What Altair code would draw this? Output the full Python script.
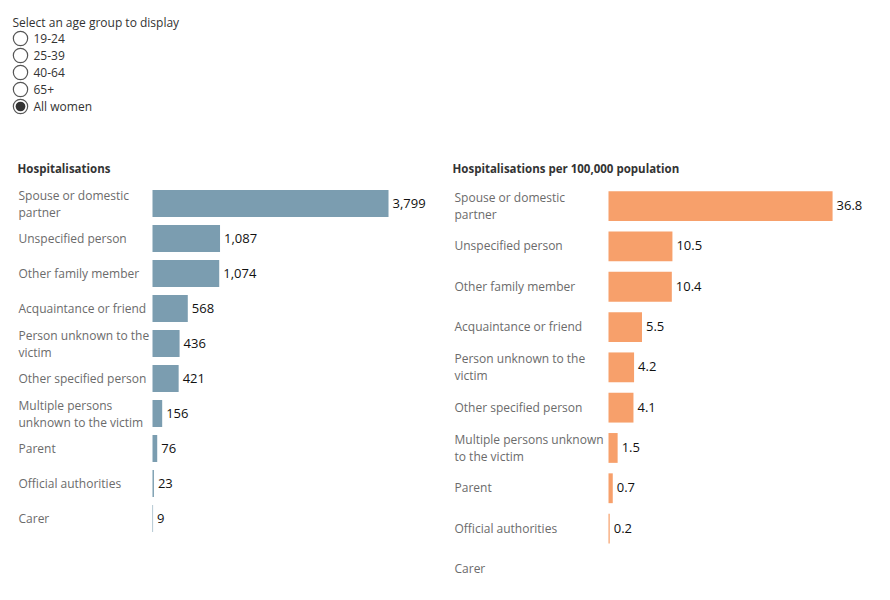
import altair as alt
import pandas as pd

prompt = "Select an age group to display"
options = ["19-24", "25-39", "40-64", "65+", "All women"]
selected = "All women"

categories = [
    "Spouse or domestic partner", "Unspecified person", "Other family member",
    "Acquaintance or friend", "Person unknown to the victim", "Other specified person",
    "Multiple persons unknown to the victim", "Parent", "Official authorities", "Carer",
]
labels_left = [
    "Spouse or domestic\npartner", "Unspecified person", "Other family member",
    "Acquaintance or friend", "Person unknown to the\nvictim", "Other specified person",
    "Multiple persons\nunknown to the victim", "Parent", "Official authorities", "Carer",
]
labels_right = [
    "Spouse or domestic\npartner", "Unspecified person", "Other family member",
    "Acquaintance or friend", "Person unknown to the\nvictim", "Other specified person",
    "Multiple persons unknown\nto the victim", "Parent", "Official authorities", "Carer",
]
hospitalisations = [3799, 1087, 1074, 568, 436, 421, 156, 76, 23, 9]
rates = [36.8, 10.5, 10.4, 5.5, 4.2, 4.1, 1.5, 0.7, 0.2, None]

FONT = "Open Sans"
LABEL_COLOR = "#6b6b6b"
TEXT_DARK = "#333333"

# ---------------- radio selector (drawn) ----------------
opt_df = pd.DataFrame({"option": options, "selected": [o == selected for o in options]})
y_opt = alt.Y("option:N", sort=options, axis=None, scale=alt.Scale(domain=options))
obase = alt.Chart(opt_df)
rings = obase.mark_circle(fill="white", stroke="#555555", strokeWidth=1.2, size=205, opacity=1).encode(
    x=alt.value(-132), y=y_opt)
dots = obase.mark_circle(color="#333333", size=95, opacity=1).encode(
    x=alt.value(-132), y=y_opt).transform_filter(alt.datum.selected)
otext = obase.mark_text(align="left", baseline="middle", fontSize=12, color=TEXT_DARK, font=FONT).encode(
    x=alt.value(-119), y=y_opt, text="option:N")
top = alt.layer(rings, dots, otext).properties(
    width=20, height=85,
    title=alt.TitleParams(prompt, anchor="start", frame="group", dx=-140, fontSize=12, fontWeight="normal",
                          color=TEXT_DARK, font=FONT, offset=-1),
)


def panel(values, labels, title, color, xmax, width, height, pad_inner, fmt, label_x, title_dx):
    df = pd.DataFrame({"category": categories, "label": labels, "value": values})
    y = alt.Y("category:N", sort=categories, axis=None,
              scale=alt.Scale(domain=categories, paddingInner=pad_inner, paddingOuter=pad_inner / 2))
    x = alt.X("value:Q", axis=None, scale=alt.Scale(domain=[0, xmax], nice=False, zero=True))
    base = alt.Chart(df)
    bars = base.mark_bar(color=color).encode(x=x, y=y)
    vals = base.mark_text(align="left", baseline="middle", dx=4, fontSize=13, color="#111111", font=FONT).encode(
        x=x, y=y, text=alt.Text("value:Q", format=fmt))
    lab_kw = dict(align="left", baseline="middle", lineBreak="\n", lineHeight=17, fontSize=12,
                  color=LABEL_COLOR, font=FONT)
    labs1 = base.mark_text(**lab_kw).encode(x=alt.value(label_x), y=y, text="label:N").transform_filter(
        "indexof(datum.label, '\\n') < 0")
    labs2 = base.mark_text(dy=-8, **lab_kw).encode(x=alt.value(label_x), y=y, text="label:N").transform_filter(
        "indexof(datum.label, '\\n') >= 0")
    return alt.layer(bars, vals, labs1, labs2).properties(
        width=width, height=height,
        title=alt.TitleParams(title, anchor="start", frame="group", dx=title_dx, fontSize=11.5,
                              fontWeight="bold", color=TEXT_DARK, font=FONT, offset=11),
    )


left = panel(hospitalisations, labels_left, "Hospitalisations", "#7b9db0", 4507, 280, 350, 0.23, ",", -134, -135)
right = panel(rates, labels_right, "Hospitalisations per 100,000 population", "#f7a06b", 42.7, 260, 403, 0.26,
              ".1f", -154, -156)

chart = alt.vconcat(
    top,
    alt.hconcat(left, right, spacing=20),
    spacing=46,
).properties(
    padding={"left": 2.5, "top": 8, "right": 4, "bottom": 2},
).configure(font=FONT).configure_view(strokeWidth=0, stroke=None)

chart.save("out.html", embed_options={"renderer": "svg", "actions": False})
